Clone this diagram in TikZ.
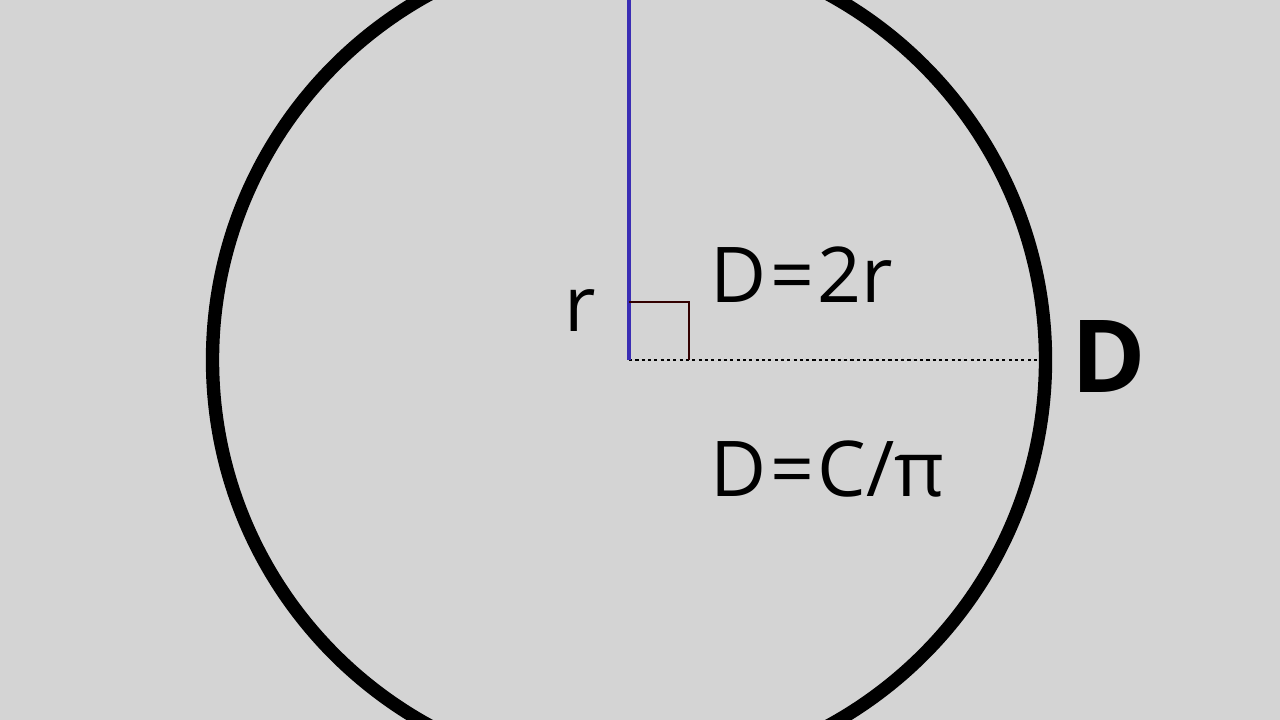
\documentclass[tikz,border=0pt]{standalone}
\usepackage{fontspec}
\setmainfont{Open Sans}
\usetikzlibrary{positioning}
\definecolor{bg-grey}{HTML}{D4D4D4}
\definecolor{radius-blue}{HTML}{3A2DB4}

\begin{document}
\begin{tikzpicture}[
  formula/.style={inner sep=0pt, anchor=base west, font=\fontsize{21.9}{26}\selectfont},
  biglabel/.style={inner sep=0pt, anchor=base west, font=\fontsize{28.7}{34}\selectfont\bfseries},
  rim/.style={draw=black, line width=3.8pt},
  radius/.style={draw=radius-blue, line width=1.2pt},
  diameter/.style={draw=black, line width=0.6pt, dash pattern=on 0.9pt off 0.9pt},
  corner/.style={draw=black!80!red, line width=0.8pt}
]

% Canvas
\fill[bg-grey] (0,0) rectangle (12.8,7.2);
\useasboundingbox (0,0) rectangle (12.8,7.2);
\clip (0,0) rectangle (12.8,7.2);

% Circle
\coordinate (centre) at (6.29,3.60);
\coordinate[above=4.165cm of centre] (top);
\coordinate[right=4.165cm of centre] (east);
\draw[rim] (centre) circle (4.165);

% Radius and diameter
\draw[diameter] (centre) -- (east);
\draw[radius] (centre) -- (top);
\draw[corner] (centre) ++(0,0.58) -| ++(0.60,-0.58);

% Labels
\node[formula, anchor=base] (rlabel) at (5.80,3.88) {r};
\node[formula] (twor) at (7.10,4.17) {D\kern1pt=\kern1pt2r};
\node[formula] (cpi) at (7.10,2.23) {D\kern1pt=\kern1ptC/π};
\node[biglabel] (dlabel) at (10.71,3.27) {D};
\end{tikzpicture}
\end{document}
